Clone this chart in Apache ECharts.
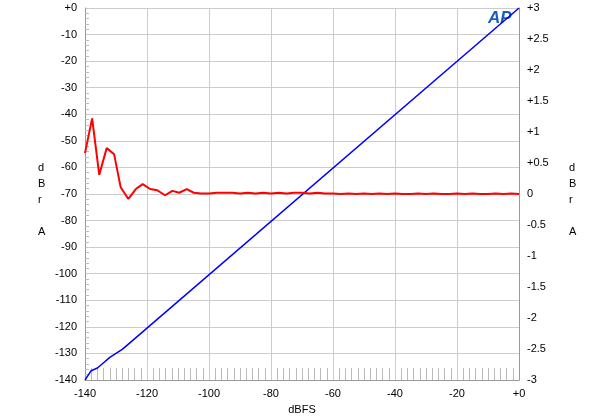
<!DOCTYPE html><html><head><meta charset="utf-8"><script src="https://cdn.jsdelivr.net/npm/echarts@6/dist/echarts.min.js"></script></head><body style="margin:0"><div id="c" style="width:600px;height:420px"></div><script>
const blueX=[-140,-138,-136,-134,-132,-130,-128,-126,0];
const blueY=[-140,-136.5,-135.5,-133.5,-131.5,-130,-128.5,-126.5,0];
const redX=[-140,-137.7,-135.4,-133,-130.6,-128.5,-126,-123.6,-121.4,-119,-116.7,-114.2,-111.8,-109.6,-107.2,-104.9,-102.5,-100,-97.5,-95,-92.5,-90,-87.5,-85,-82.5,-80,-77.5,-75,-72.5,-70,-67.5,-65,-62.5,-60,-57.5,-55,-52.5,-50,-47.5,-45,-42.5,-40,-37.5,-35,-32.5,-30,-27.5,-25,-22.5,-20,-17.5,-15,-12.5,-10,-7.5,-5,-2.5,0];
const redY=[0.66,1.22,0.31,0.74,0.64,0.11,-0.08,0.08,0.16,0.08,0.06,-0.02,0.05,0.02,0.08,0.02,0.01,0.01,0.02,0.02,0.02,0.01,0.02,0.01,0.02,0.01,0.02,0.01,0.02,0.02,0.01,0.02,0.01,0.01,0.0,0.01,0.0,0.01,0.0,0.01,0.0,0.01,0.0,0.0,0.01,0.0,0.01,0.0,0.0,0.01,0.0,0.01,0.0,0.0,0.01,0.0,0.01,0.0];
const z=(a,b)=>a.map((v,i)=>[v,b[i]]);
const ch=echarts.init(document.getElementById('c'));
const lab={color:'#000',fontSize:11,fontFamily:'Arial, Liberation Sans'};
const sp={lineStyle:{color:'#ccc'}};
ch.setOption({animation:false,
grid:{left:85,right:81,top:8,bottom:40},
xAxis:{type:'value',min:-140,max:0,interval:20,name:'dBFS',nameLocation:'middle',nameGap:24,nameTextStyle:lab,
 axisLabel:{...lab,formatter:v=>v===0?'+0':v},axisLine:{onZero:false,lineStyle:{color:'#999'}},axisTick:{show:false},
 minorTick:{show:true,splitNumber:10,length:-12,lineStyle:{color:'#bbb'}},splitLine:sp},
yAxis:[{type:'value',min:-140,max:0,interval:10,axisLabel:{...lab,formatter:v=>v===0?'+0':v},
 axisLine:{show:true,onZero:false,lineStyle:{color:'#999'}},axisTick:{show:false},minorTick:{show:true,splitNumber:5,length:-4,lineStyle:{color:'#bbb'}},splitLine:sp},
 {type:'value',min:-3,max:3,interval:0.5,position:'right',axisLabel:{...lab,formatter:v=>v>0?'+'+v:v},
 axisLine:{show:true,onZero:false,lineStyle:{color:'#999'}},axisTick:{show:false},splitLine:{show:false}}],
graphic:[
 {type:'text',left:38,top:160,style:{text:'d\nB\nr\n\nA',fill:'#000',font:'11px Arial',lineHeight:16,align:'center'}},
 {type:'text',left:569,top:160,style:{text:'d\nB\nr\n\nA',fill:'#000',font:'11px Arial',lineHeight:16,align:'center'}},
 {type:'text',left:488,top:10,style:{text:'AP',fill:'#1a5fb4',font:'italic bold 17px Arial'}}
],
series:[
 {type:'line',data:z(blueX,blueY),showSymbol:false,lineStyle:{color:'#0000ff',width:1.5}},
 {type:'line',yAxisIndex:1,data:z(redX,redY),showSymbol:false,lineStyle:{color:'#ff0000',width:2}}
]});
</script></body></html>
